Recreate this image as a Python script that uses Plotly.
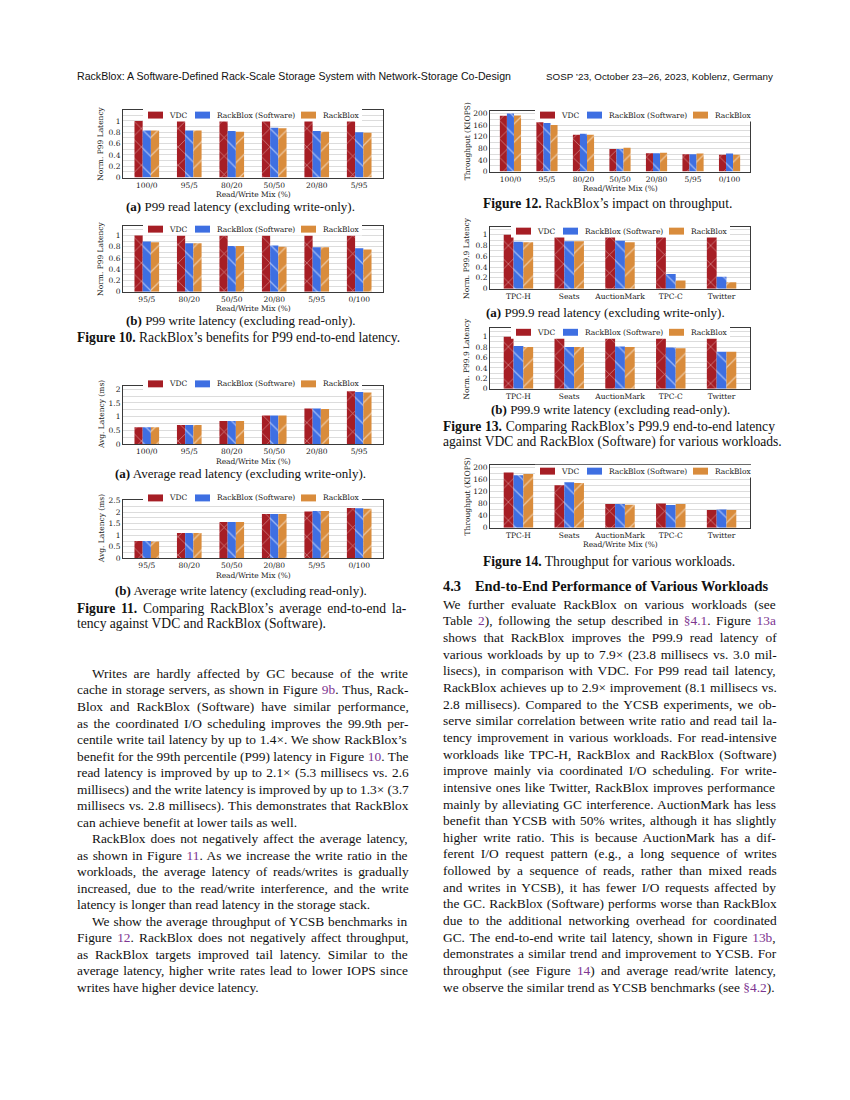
import re
import plotly.graph_objects as go

W, H = 850, 1100

# ---------------- data ----------------
series_names = ["VDC", "RackBlox (Software)", "RackBlox"]
series_colors = ["#a61e25", "#3e6fe2", "#d98c3c"]
series_patterns = ["x", "\\", "/"]

mix_read = ["100/0", "95/5", "80/20", "50/50", "20/80", "5/95"]
mix_write = ["95/5", "80/20", "50/50", "20/80", "5/95", "0/100"]
mix_all = ["100/0", "95/5", "80/20", "50/50", "20/80", "5/95", "0/100"]
workloads = ["TPC-H", "Seats", "AuctionMark", "TPC-C", "Twitter"]

# Figure 10a: normalized P99 read latency
p99_read_vdc = [1.0, 1.0, 1.0, 1.0, 1.0, 1.0]
p99_read_sw = [0.83, 0.83, 0.82, 0.88, 0.82, 0.80]
p99_read_rb = [0.83, 0.83, 0.81, 0.87, 0.81, 0.79]
# Figure 10b: normalized P99 write latency
p99_write_vdc = [1.0, 1.0, 1.0, 1.0, 1.0, 1.0]
p99_write_sw = [0.89, 0.86, 0.81, 0.82, 0.79, 0.77]
p99_write_rb = [0.88, 0.86, 0.81, 0.80, 0.79, 0.75]
# Figure 11a: average read latency (ms)
avg_read_vdc = [0.62, 0.70, 0.85, 1.05, 1.30, 1.92]
avg_read_sw = [0.62, 0.70, 0.85, 1.05, 1.30, 1.90]
avg_read_rb = [0.62, 0.70, 0.85, 1.05, 1.28, 1.88]
# Figure 11b: average write latency (ms)
avg_write_vdc = [0.75, 1.10, 1.57, 1.92, 2.03, 2.18]
avg_write_sw = [0.75, 1.10, 1.57, 1.92, 2.05, 2.17]
avg_write_rb = [0.73, 1.10, 1.57, 1.92, 2.05, 2.15]
# Figure 12: throughput (KIOPS)
tput_vdc = [192, 170, 127, 78, 63, 60, 58]
tput_sw = [200, 167, 130, 78, 63, 60, 62]
tput_rb = [193, 160, 127, 82, 65, 62, 58]
# Figure 13a: normalized P99.9 read latency
p999_read_vdc = [1.0, 1.0, 1.0, 1.0, 1.0]
p999_read_sw = [0.87, 0.88, 0.89, 0.27, 0.22]
p999_read_rb = [0.86, 0.88, 0.86, 0.15, 0.12]
# Figure 13b: normalized P99.9 write latency
p999_write_vdc = [1.0, 1.0, 1.0, 1.0, 1.0]
p999_write_sw = [0.82, 0.80, 0.81, 0.79, 0.71]
p999_write_rb = [0.80, 0.80, 0.80, 0.78, 0.71]
# Figure 14: throughput of workloads (KIOPS)
wl_tput_vdc = [182, 140, 78, 80, 58]
wl_tput_sw = [173, 150, 78, 75, 60]
wl_tput_rb = [177, 147, 76, 78, 58]

# ---------------- helpers ----------------
def X(px):
    return px / W


def Y(py):
    return 1 - py / H


CHART_FONT = "DejaVu Serif"
TEXT_FONT = "Liberation Serif"
LINK = "#7d3590"

# Times-compatible advance widths (per 1000 em) for Liberation Serif
_TW = {" ": 250, "!": 333, '"': 408, "%": 833, "&": 778, "'": 180, "(": 333, ")": 333,
       "+": 564, ",": 250, "-": 333, ".": 250, "/": 278, ":": 278, ";": 278, "?": 444,
       "×": 564, "’": 333, "§": 500, "–": 500}
for ch in "0123456789":
    _TW[ch] = 500
_TW.update(dict(zip("ABCDEFGHIJKLMNOPQRSTUVWXYZ",
                    [722, 667, 667, 722, 611, 556, 722, 722, 333, 389, 722, 611, 889,
                     722, 722, 556, 722, 667, 556, 611, 722, 722, 944, 722, 722, 611])))
_TW.update(dict(zip("abcdefghijklmnopqrstuvwxyz",
                    [444, 500, 444, 500, 444, 333, 500, 500, 278, 278, 500, 278, 778,
                     500, 500, 500, 500, 333, 389, 278, 500, 500, 722, 500, 500, 444])))


def text_width(html, size):
    total = 0.0
    for part in re.split(r"(<b>.*?</b>)", html):
        bold = part.startswith("<b>")
        plain = re.sub(r"<[^>]+>", "", part)
        w = sum(_TW.get(ch, 500) for ch in plain)
        total += w * (1.07 if bold else 1.0)
    return total * size / 1000.0


def L(s):
    return f"<span style='color:{LINK}'>{s}</span>"


charts = [
    dict(cats=mix_read, vals=[p99_read_vdc, p99_read_sw, p99_read_rb],
         box=(123, 383, 107, 175), yr=[0, 1.19], dt=0.2, mdt=0.1,
         ytitle="Norm. P99 Latency", ytx=101, xtitle="Read/Write Mix (%)", xty=192,
         leg=(148, 112)),
    dict(cats=mix_write, vals=[p99_write_vdc, p99_write_sw, p99_write_rb],
         box=(123, 383, 224, 290), yr=[0, 1.164], dt=0.2, mdt=0.1,
         ytitle="Norm. P99 Latency", ytx=101, xtitle="Read/Write Mix (%)", xty=307,
         leg=(148, 227)),
    dict(cats=mix_read, vals=[avg_read_vdc, avg_read_sw, avg_read_rb],
         box=(123, 383, 385, 444), yr=[0, 2.12], dt=0.5, mdt=0.25,
         ytitle="Avg. Latency (ms)", ytx=101, xtitle="Read/Write Mix (%)", xty=461,
         leg=(148, 383)),
    dict(cats=mix_write, vals=[avg_write_vdc, avg_write_sw, avg_write_rb],
         box=(123, 383, 500, 559), yr=[0, 2.53], dt=0.5, mdt=0.25,
         ytitle="Avg. Latency (ms)", ytx=101, xtitle="Read/Write Mix (%)", xty=576,
         leg=(148, 498)),
    dict(cats=mix_all, vals=[tput_vdc, tput_sw, tput_rb],
         box=(490, 750, 108, 169), yr=[0, 208], dt=40, mdt=20,
         ytitle="Throughput (KIOPS)", ytx=467, xtitle="Read/Write Mix (%)", xty=186,
         leg=(540, 112)),
    dict(cats=workloads, vals=[p999_read_vdc, p999_read_sw, p999_read_rb],
         box=(490, 750, 225, 287), yr=[0, 1.14], dt=0.2, mdt=0.1,
         ytitle="Norm. P99.9 Latency", ytx=467, xtitle=None, xty=None,
         leg=(516, 229)),
    dict(cats=workloads, vals=[p999_write_vdc, p999_write_sw, p999_write_rb],
         box=(490, 750, 327, 388), yr=[0, 1.16], dt=0.2, mdt=0.1,
         ytitle="Norm. P99.9 Latency", ytx=467, xtitle=None, xty=None,
         leg=(516, 331)),
    dict(cats=workloads, vals=[wl_tput_vdc, wl_tput_sw, wl_tput_rb],
         box=(490, 750, 465, 528), yr=[0, 206], dt=40, mdt=20,
         ytitle="Throughput (KIOPS)", ytx=467, xtitle="Read/Write Mix (%)", xty=545,
         leg=(540, 471)),
]

# legend entry offsets (swatch start, text start) relative to the legend's left edge
LEG_SWATCH = [0, 47, 153]
LEG_TEXT = [19, 67, 173]
LEG_END = 210

fig = go.Figure()
annotations = []
shapes = []
layout_extra = {}

for i, c in enumerate(charts):
    k = "" if i == 0 else str(i + 1)
    for s in range(3):
        fig.add_trace(go.Bar(
            x=c["cats"], y=c["vals"][s], name=series_names[s],
            xaxis="x" + k, yaxis="y" + k, showlegend=False,
            marker=dict(color=series_colors[s], line=dict(width=0),
                        pattern=dict(shape=series_patterns[s], fgcolor="white",
                                     size=13, solidity=0.1)),
            hoverinfo="skip",
        ))
    x0, x1, y0, y1 = c["box"]
    n = len(c["cats"])
    layout_extra["xaxis" + k] = dict(
        domain=[X(x0), X(x1)], anchor="y" + k, type="category",
        range=[-0.56, n - 1 + 0.56], showline=True, mirror=True,
        linecolor="#3a3a3a", linewidth=1, ticks="", showgrid=False,
        tickfont=dict(family=CHART_FONT, size=7.5, color="#222"), fixedrange=True,
    )
    layout_extra["yaxis" + k] = dict(
        domain=[Y(y1), Y(y0)], anchor="x" + k, range=c["yr"], dtick=c["dt"],
        showline=True, mirror=True, linecolor="#3a3a3a", linewidth=1,
        ticks="", showgrid=True, gridcolor="#dcdcdc", gridwidth=0.8,
        minor=dict(dtick=c["mdt"], showgrid=True, gridcolor="#dcdcdc", gridwidth=0.8),
        zeroline=False, tickfont=dict(family=CHART_FONT, size=7.5, color="#222"),
        fixedrange=True,
    )
    # compact legend (white box, colour swatches and labels)
    lx, ly = c["leg"]
    shapes.append(dict(type="rect", xref="paper", yref="paper", layer="above",
                       x0=X(lx - 5), x1=X(lx + LEG_END + 4), y0=Y(ly + 6.5), y1=Y(ly - 6.5),
                       fillcolor="white", line=dict(width=0)))
    for s in range(3):
        sx = lx + LEG_SWATCH[s]
        shapes.append(dict(type="rect", xref="paper", yref="paper", layer="above",
                           x0=X(sx), x1=X(sx + 15), y0=Y(ly + 3.5), y1=Y(ly - 3.5),
                           fillcolor=series_colors[s], line=dict(width=0)))
        annotations.append(dict(
            x=X(lx + LEG_TEXT[s]), y=Y(ly), xref="paper", yref="paper",
            xanchor="left", yanchor="middle", text=series_names[s], showarrow=False,
            font=dict(family=CHART_FONT, size=7.5, color="#222"),
        ))
    annotations.append(dict(
        x=X(c["ytx"]), y=Y((y0 + y1) / 2), xref="paper", yref="paper",
        xanchor="center", yanchor="middle",
        text=c["ytitle"], textangle=-90, showarrow=False,
        font=dict(family=CHART_FONT, size=7.5, color="#222"),
    ))
    if c["xtitle"]:
        annotations.append(dict(
            x=X((x0 + x1) / 2), y=Y(c["xty"]), xref="paper", yref="paper",
            xanchor="center", yanchor="middle",
            text=c["xtitle"], showarrow=False,
            font=dict(family=CHART_FONT, size=7.5, color="#222"),
        ))


def txt(x, y, text, size=13.4, anchor="left", family=TEXT_FONT, color="#111",
        justify_to=None):
    if justify_to is not None:
        nat = text_width(text, size)
        nsp = re.sub(r"<[^>]+>", "", text).count(" ")
        if nsp > 0:
            ws = (justify_to - x - nat) / nsp
            text = f"<span style='word-spacing:{ws:.2f}px'>{text}</span>"
    annotations.append(dict(
        x=X(x), y=Y(y), xref="paper", yref="paper", text=text,
        xanchor=anchor, yanchor="middle", showarrow=False, align=anchor,
        font=dict(family=family, size=size, color=color),
    ))


# header
txt(75, 73, "RackBlox: A Software-Defined Rack-Scale Storage System with Network-Storage Co-Design",
    size=10.6, family="Liberation Sans")
txt(775, 73, "SOSP ’23, October 23–26, 2023, Koblenz, Germany", size=9.8,
    anchor="right", family="Liberation Sans")

SUB = 13.0
CAP = 13.6
# sub captions / captions
txt(241, 204, "<b>(a)</b> P99 read latency (excluding write-only).", size=SUB, anchor="center")
txt(241, 319, "<b>(b)</b> P99 write latency (excluding read-only).", size=SUB, anchor="center")
txt(75, 336, "<b>Figure 10.</b> RackBlox’s benefits for P99 end-to-end latency.", size=CAP)
txt(241, 473, "<b>(a)</b> Average read latency (excluding write-only).", size=SUB, anchor="center")
txt(241, 591, "<b>(b)</b> Average write latency (excluding read-only).", size=SUB, anchor="center")
txt(75, 609, "<b>Figure 11.</b> Comparing RackBlox’s average end-to-end la-", size=CAP,
    justify_to=407)
txt(75, 625, "tency against VDC and RackBlox (Software).", size=CAP)

txt(607, 201, "<b>Figure 12.</b> RackBlox’s impact on throughput.", size=CAP, anchor="center")
txt(605, 311, "<b>(a)</b> P99.9 read latency (excluding write-only).", size=SUB, anchor="center")
txt(610, 409, "<b>(b)</b> P99.9 write latency (excluding read-only).", size=SUB, anchor="center")
txt(441, 426, "<b>Figure 13.</b> Comparing RackBlox’s P99.9 end-to-end latency", size=CAP,
    justify_to=775)
txt(441, 442, "against VDC and RackBlox (Software) for various workloads.", size=CAP)
txt(609, 562, "<b>Figure 14.</b> Throughput for various workloads.", size=CAP, anchor="center")
txt(441, 587, "<b>4.3</b>", size=14.4)
txt(473, 587, "<b>End-to-End Performance of Various Workloads</b>", size=14.4)

# body text: (indent x, text, justified?)
left_lines = [
    (90, "Writes are hardly affected by GC because of the write", True),
    (75, f"cache in storage servers, as shown in Figure {L('9b')}. Thus, Rack-", True),
    (75, "Blox and RackBlox (Software) have similar performance,", True),
    (75, "as the coordinated I/O scheduling improves the 99.9th per-", True),
    (75, "centile write tail latency by up to 1.4×. We show RackBlox’s", True),
    (75, f"benefit for the 99th percentile (P99) latency in Figure {L('10')}. The", True),
    (75, "read latency is improved by up to 2.1× (5.3 millisecs vs. 2.6", True),
    (75, "millisecs) and the write latency is improved by up to 1.3× (3.7", True),
    (75, "millisecs vs. 2.8 millisecs). This demonstrates that RackBlox", True),
    (75, "can achieve benefit at lower tails as well.", False),
    (90, "RackBlox does not negatively affect the average latency,", True),
    (75, f"as shown in Figure {L('11')}. As we increase the write ratio in the", True),
    (75, "workloads, the average latency of reads/writes is gradually", True),
    (75, "increased, due to the read/write interference, and the write", True),
    (75, "latency is longer than read latency in the storage stack.", False),
    (90, "We show the average throughput of YCSB benchmarks in", True),
    (75, f"Figure {L('12')}. RackBlox does not negatively affect throughput,", True),
    (75, "as RackBlox targets improved tail latency. Similar to the", True),
    (75, "average latency, higher write rates lead to lower IOPS since", True),
    (75, "writes have higher device latency.", False),
]
for j, (x, s, jus) in enumerate(left_lines):
    txt(x, 675 + j * 16.65, s, justify_to=407 if jus else None)

right_lines = [
    "We further evaluate RackBlox on various workloads (see",
    f"Table {L('2')}), following the setup described in {L('§4.1')}. Figure {L('13a')}",
    "shows that RackBlox improves the P99.9 read latency of",
    "various workloads by up to 7.9× (23.8 millisecs vs. 3.0 mil-",
    "lisecs), in comparison with VDC. For P99 read tail latency,",
    "RackBlox achieves up to 2.9× improvement (8.1 millisecs vs.",
    "2.8 millisecs). Compared to the YCSB experiments, we ob-",
    "serve similar correlation between write ratio and read tail la-",
    "tency improvement in various workloads. For read-intensive",
    "workloads like TPC-H, RackBlox and RackBlox (Software)",
    "improve mainly via coordinated I/O scheduling. For write-",
    "intensive ones like Twitter, RackBlox improves performance",
    "mainly by alleviating GC interference. AuctionMark has less",
    "benefit than YCSB with 50% writes, although it has slightly",
    "higher write ratio. This is because AuctionMark has a dif-",
    "ferent I/O request pattern (e.g., a long sequence of writes",
    "followed by a sequence of reads, rather than mixed reads",
    "and writes in YCSB), it has fewer I/O requests affected by",
    "the GC. RackBlox (Software) performs worse than RackBlox",
    "due to the additional networking overhead for coordinated",
    f"GC. The end-to-end write tail latency, shown in Figure {L('13b')},",
    "demonstrates a similar trend and improvement to YCSB. For",
    f"throughput (see Figure {L('14')}) and average read/write latency,",
    f"we observe the similar trend as YCSB benchmarks (see {L('§4.2')}).",
]
for j, s in enumerate(right_lines):
    last = j == len(right_lines) - 1
    txt(441, 605 + j * 16.8, s, justify_to=None if last else 775)

fig.update_layout(
    width=W, height=H, autosize=False,
    margin=dict(l=0, r=0, t=0, b=0, pad=0),
    paper_bgcolor="white", plot_bgcolor="white",
    barmode="group", bargap=0.42, bargroupgap=0,
    showlegend=False,
    annotations=annotations, shapes=shapes,
    **layout_extra,
)

fig.write_html("out.html", config={"displayModeBar": False},
               post_script="document.body.style.margin='0';")
